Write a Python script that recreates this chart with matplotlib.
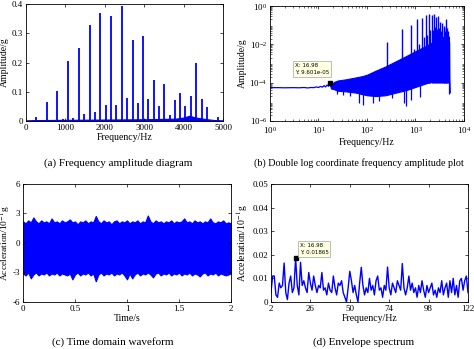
import numpy as np
import matplotlib
matplotlib.use("Agg")
import matplotlib.pyplot as plt

plt.rcParams['font.family'] = ['Liberation Serif', 'DejaVu Serif']
plt.rcParams['mathtext.fontset'] = 'stix'
plt.rcParams['axes.unicode_minus'] = False

BLUE = '#0000ff'

# ---------------- (a) frequency amplitude ----------------
a_peak_freq = [253, 524, 794, 929, 1064, 1199, 1343, 1470, 1613, 1748, 1883, 2019, 2154,
               2289, 2432, 2559, 2703, 2838, 2973, 3100, 3243, 3378, 3514, 3657, 3792,
               3910, 4045, 4181, 4324, 4459, 4595, 4865]
a_peak_amp = [0.0125, 0.066, 0.104, 0.006, 0.204, 0.01, 0.25, 0.025, 0.328, 0.03, 0.37, 0.053,
              0.36, 0.055, 0.394, 0.077, 0.278, 0.062, 0.292, 0.075, 0.14, 0.05, 0.126, 0.02,
              0.072, 0.095, 0.051, 0.085, 0.2, 0.075, 0.047, 0.0125]
a_floor_freq = [0, 200, 1000, 2000, 3000, 3800, 4000, 4150, 4300, 4600, 4800, 5000]
a_floor_amp = [0.002, 0.003, 0.004, 0.005, 0.006, 0.008, 0.012, 0.018, 0.012, 0.006, 0.003, 0.002]

# ---------------- (b) double log ----------------
b_flat_freq = [1, 1.5, 2, 3, 4, 5, 6, 7, 8, 9, 10, 11, 12, 13, 14, 15, 16, 16.98, 18]
b_flat_amp = [5.5e-5, 5.5e-5, 5.4e-5, 5.5e-5, 5.4e-5, 5.6e-5, 5.3e-5, 5.6e-5, 5.5e-5, 6.0e-5,
              5.6e-5, 6.4e-5, 5.8e-5, 7.0e-5, 6.0e-5, 7.5e-5, 6.5e-5, 9.601e-5, 6.0e-5]
b_band_freq = [18, 21, 25, 37, 60, 80, 100, 150, 240, 390, 630, 1000, 1600, 2600, 4200, 4900, 5000]
b_band_upper = [7e-5, 1.1e-4, 1.3e-4, 1.5e-4, 1.9e-4, 2.2e-4, 2.6e-4, 4.2e-4, 7e-4, 1.3e-3,
                2.4e-3, 4.4e-3, 8e-3, 1.6e-2, 2.8e-2, 2.5e-2, 5e-5]
b_band_lower = [5e-5, 4.5e-5, 3.8e-5, 3.5e-5, 3e-5, 2.5e-5, 2.2e-5, 2e-5, 2.2e-5, 3e-5, 4e-5,
                6e-5, 9e-5, 1.3e-4, 1.8e-4, 1.8e-4, 3e-5]
b_dip_freq = [24, 32, 45, 68, 81, 130, 178, 335, 580, 630, 790, 1260, 4950]
b_dip_amp = [2.5e-5, 2.2e-5, 2e-5, 9e-6, 7e-6, 9e-6, 1.1e-5, 1.5e-5, 9e-6, 6e-6, 1.3e-5, 1.8e-5, 2.5e-5]
b_tip = (16.98, 9.601e-5)

# ---------------- (c) time domain ----------------
c_time = np.round(np.arange(0, 2.0001, 0.025), 3)
c_upper = [2.2, 2.0, 2.3, 2.1, 2.6, 2.2, 2.0, 2.3, 2.1, 2.2, 2.0, 2.5, 2.1, 2.2, 2.0, 2.3,
           2.1, 2.2, 2.4, 2.1, 2.2, 1.9, 2.2, 2.1, 2.3, 2.0, 2.2, 2.1, 2.75, 2.2, 2.0, 2.3,
           2.1, 2.2, 1.9, 2.2, 2.3, 2.0, 2.2, 2.1, 2.3, 2.0, 2.2, 2.1, 2.3, 2.0, 2.2, 2.1,
           2.8, 2.2, 2.0, 2.3, 2.1, 2.2, 2.0, 2.2, 2.1, 2.3, 2.0, 2.2, 2.1, 2.2, 2.5, 2.1,
           2.2, 2.0, 2.3, 2.1, 2.2, 2.0, 2.2, 2.1, 2.5, 2.1, 2.0, 2.2, 2.1, 2.3, 2.0, 2.1, 2.0]
c_lower = [-3.1, -3.3, -3.0, -3.6, -3.2, -3.0, -3.3, -3.1, -3.2, -3.0, -3.3, -3.1, -3.2,
           -3.0, -3.3, -3.1, -3.2, -3.3, -3.1, -3.7, -3.2, -3.0, -3.3, -3.1, -3.2, -3.0,
           -3.3, -3.1, -3.9, -3.2, -3.0, -3.3, -3.1, -3.2, -3.0, -3.3, -3.1, -3.2, -3.0,
           -3.3, -3.7, -3.1, -3.6, -3.2, -3.0, -3.3, -3.1, -3.2, -3.0, -3.2, -3.5, -3.1,
           -3.0, -3.3, -3.1, -3.2, -3.0, -3.3, -3.1, -3.2, -3.0, -3.3, -3.1, -3.2, -3.0,
           -3.3, -3.1, -3.2, -3.4, -3.1, -3.0, -3.3, -3.1, -3.2, -3.0, -3.3, -3.1, -3.2,
           -3.3, -3.2, -3.1]

# ---------------- (d) envelope spectrum ----------------
d_freq = list(range(2, 123))
d_amp = [0.004, 0.011, 0.011, 0.003, 0.002, 0.008, 0.006, 0.007, 0.0165, 0.004, 0.001, 0.008,
         0.011, 0.004, 0.006, 0.01865, 0.007, 0.003, 0.0168, 0.007, 0.009, 0.006, 0.004, 0.0125,
         0.008, 0.005, 0.011, 0.007, 0.004, 0.007, 0.006, 0.0125, 0.005, 0.006, 0.003, 0.008,
         0.005, 0.004, 0.011, 0.006, 0.003, 0.008, 0.007, 0.009, 0.004, 0.002, 0.0, 0.006,
         0.013, 0.009, 0.004, 0.007, 0.003, 0.0, 0.008, 0.0147, 0.007, 0.003, 0.006, 0.004,
         0.010, 0.005, 0.007, 0.003, 0.009, 0.011, 0.005, 0.006, 0.002, 0.007, 0.005, 0.0148,
         0.006, 0.003, 0.008, 0.006, 0.004, 0.009, 0.007, 0.005, 0.0163, 0.006, 0.003, 0.006,
         0.011, 0.005, 0.008, 0.004, 0.006, 0.002, 0.007, 0.004, 0.009, 0.005, 0.002, 0.007,
         0.004, 0.006, 0.008, 0.003, 0.005, 0.002, 0.006, 0.004, 0.009, 0.003, 0.006, 0.008,
         0.002, 0.009, 0.004, 0.010, 0.003, 0.007, 0.002, 0.009, 0.010, 0.005, 0.009, 0.011,
         0.004]
d_tip = (16.98, 0.01865)

TICK_FS = 6.5
LABEL_FS = 7
CAP_FS = 8

fig = plt.figure(figsize=(4.74, 3.49), dpi=100)


def style(ax):
    ax.tick_params(direction='in', top=True, right=True, labelsize=TICK_FS,
                   length=2.5, width=0.5, pad=2)
    ax.tick_params(which='minor', direction='in', top=True, right=True, length=1.5, width=0.4)
    for s in ax.spines.values():
        s.set_linewidth(0.6)


def datatip(ax, xy, box_xy, text):
    ax.plot([xy[0]], [xy[1]], marker='s', color='black', markersize=3, zorder=5)
    ax.annotate(text, xy=box_xy, xycoords='axes fraction', fontsize=4.0,
                family='DejaVu Sans', va='bottom', ha='left', linespacing=1.5,
                bbox=dict(boxstyle='square,pad=0.35', fc='#ffffe1', ec='#8c8c8c', lw=0.4),
                zorder=6)


# (a)
ax = fig.add_axes([0.0549, 0.6533, 0.4156, 0.3352])
ax.fill_between(a_floor_freq, 0, a_floor_amp, color=BLUE, lw=0.8)
ax.vlines(a_peak_freq, 0, a_peak_amp, color=BLUE, lw=1.3)
ax.set_xlim(0, 5000)
ax.set_ylim(0, 0.4)
ax.set_xticks([0, 1000, 2000, 3000, 4000, 5000])
ax.set_yticks([0, 0.1, 0.2, 0.3, 0.4])
ax.set_yticklabels(['0', '0.1', '0.2', '0.3', '0.4'])
ax.set_xlabel('Frequency/Hz', fontsize=LABEL_FS, labelpad=1)
ax.set_ylabel('Amplitude/g', fontsize=LABEL_FS, labelpad=2)
style(ax)

# (b)
ax = fig.add_axes([0.5696, 0.6533, 0.4093, 0.3295])
ax.plot(b_flat_freq, b_flat_amp, color=BLUE, lw=0.9)
ax.fill_between(b_band_freq, b_band_lower, b_band_upper, color=BLUE, lw=0.8)
ax.vlines(b_dip_freq, b_dip_amp, np.interp(np.log(b_dip_freq), np.log(b_band_freq), b_band_lower),
          color=BLUE, lw=0.9)
ax.vlines(a_peak_freq, 1e-4, a_peak_amp, color=BLUE, lw=1.0)
ax.set_xscale('log')
ax.set_yscale('log')
ax.set_xlim(1, 1e4)
ax.set_ylim(1e-6, 1)
ax.set_xticks([1, 10, 100, 1000, 10000])
ax.set_yticks([1e-6, 1e-4, 1e-2, 1])
ax.set_xlabel('Frequency/Hz', fontsize=LABEL_FS, labelpad=1)
ax.set_ylabel('Amplitude/g', fontsize=LABEL_FS, labelpad=2)
style(ax)
ax.tick_params(axis='x', pad=3)
datatip(ax, b_tip, (0.13, 0.40), 'X: 16.98\nY: 9.601e-05')

# (c)
ax = fig.add_axes([0.0485, 0.1347, 0.4388, 0.3381])
ax.fill_between(c_time, c_lower, c_upper, color=BLUE, lw=0.8)
ax.set_xlim(0, 2)
ax.set_ylim(-6, 6)
ax.set_xticks([0, 0.5, 1, 1.5, 2])
ax.set_xticklabels(['0', '0.5', '1', '1.5', '2'])
ax.set_yticks([-6, -3, 0, 3, 6])
ax.set_xlabel('Time/s', fontsize=LABEL_FS, labelpad=1)
ax.set_ylabel(r'Acceleration/10$^{-1}$g', fontsize=6.8)
ax.yaxis.set_label_coords(-0.046, 0.5)
style(ax)

# (d)
ax = fig.add_axes([0.5717, 0.1347, 0.4156, 0.3381])
ax.plot(d_freq, d_amp, color=BLUE, lw=1.0)
ax.set_xlim(2, 122)
ax.set_ylim(0, 0.05)
ax.set_xticks([2, 26, 50, 74, 98, 122])
ax.set_yticks([0, 0.01, 0.02, 0.03, 0.04, 0.05])
ax.set_yticklabels(['0', '0.01', '0.02', '0.03', '0.04', '0.05'])
ax.set_xlabel('Frequency/Hz', fontsize=LABEL_FS, labelpad=1)
ax.set_ylabel(r'Acceleration/10$^{-1}$g', fontsize=LABEL_FS, labelpad=2)
style(ax)
datatip(ax, d_tip, (0.145, 0.40), 'X: 16.98\nY: 0.01865')

# captions
fig.text(0.249, 0.533, '(a) Frequency amplitude diagram', fontsize=CAP_FS, ha='center', va='center')
fig.text(0.757, 0.533, '(b) Double log coordinate frequency amplitude plot', fontsize=7.3,
         ha='center', va='center')
fig.text(0.238, 0.020, '(c) Time domain waveform', fontsize=CAP_FS, ha='center', va='center')
fig.text(0.766, 0.020, '(d) Envelope spectrum', fontsize=CAP_FS, ha='center', va='center')

fig.savefig('out.png', dpi=100)
